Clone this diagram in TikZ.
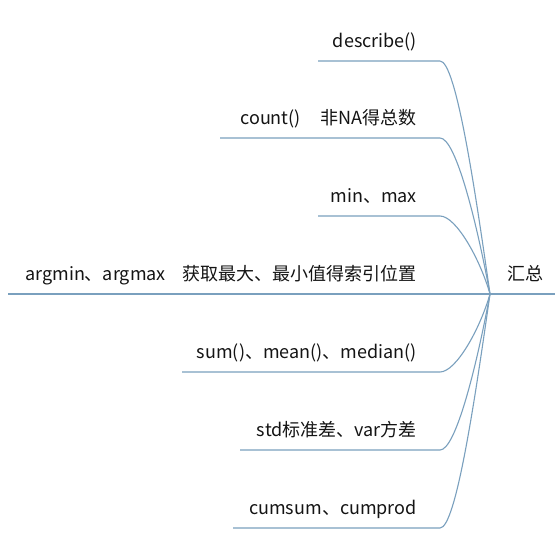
\documentclass[tikz,border=0pt]{standalone}
\usepackage{fontspec}
\setmainfont{Noto Sans CJK SC}
\definecolor{mmblue}{RGB}{122,160,190}
\definecolor{mmink}{RGB}{20,20,20}
\usetikzlibrary{positioning,calc}

\begin{document}
\begin{tikzpicture}[x=1pt,y=-1pt,
  mmleaf/.style={anchor=base east,inner sep=0pt,font=\fontsize{18}{20}\selectfont,text=mmink},
  mmroot/.style={anchor=base west,inner sep=0pt,font=\fontsize{18}{20}\selectfont,text=mmink},
  mmline/.style={draw=mmblue,line width=1.1pt}
]
  \fill[white] (0,0) rectangle (555,539);
  \useasboundingbox (0,0) rectangle (555,539);
  % root
  \coordinate (hub) at (490,294);
  \coordinate (rootend) at (555,294);
  \node[mmroot] (root) at (507,280) {汇总};
  \draw[mmline] (hub) -- (rootend);
  % upper branches
  \node[mmleaf] (describe) at (417,47) {describe()};
  \coordinate (describeL) at (318,61);
  \coordinate (describeR) at (440,61);
  \draw[mmline] (describeL) -- (describeR) .. controls +(16,0) and ($(hub)+(-15,-105)$) .. (hub);
  \node[mmleaf] (count) at (417,124) {count()\hspace{20pt}非NA得总数};
  \coordinate (countL) at (220,138);
  \coordinate (countR) at (440,138);
  \draw[mmline] (countL) -- (countR) .. controls +(16,0) and ($(hub)+(-13,-70)$) .. (hub);
  \node[mmleaf] (minmax) at (417,202) {min、max};
  \coordinate (minmaxL) at (318,216);
  \coordinate (minmaxR) at (440,216);
  \draw[mmline] (minmaxL) -- (minmaxR) .. controls +(16,0) and ($(hub)+(-10,-35)$) .. (hub);
  % middle branch
  \node[mmleaf] (argminmax) at (417,280) {argmin、argmax\hspace{17pt}获取最大、最小值得索引位置};
  \coordinate (argminmaxL) at (8,294);
  \draw[mmline] (argminmaxL) -- (hub);
  % lower branches
  \node[mmleaf] (summean) at (417,358) {sum()、mean()、median()};
  \coordinate (summeanL) at (182,372);
  \coordinate (summeanR) at (440,372);
  \draw[mmline] (summeanL) -- (summeanR) .. controls +(16,0) and ($(hub)+(-10,35)$) .. (hub);
  \node[mmleaf] (stdvar) at (417,436) {std标准差、var方差};
  \coordinate (stdvarL) at (240,450);
  \coordinate (stdvarR) at (440,450);
  \draw[mmline] (stdvarL) -- (stdvarR) .. controls +(16,0) and ($(hub)+(-13,70)$) .. (hub);
  \node[mmleaf] (cumsum) at (417,514) {cumsum、cumprod};
  \coordinate (cumsumL) at (233,528);
  \coordinate (cumsumR) at (440,528);
  \draw[mmline] (cumsumL) -- (cumsumR) .. controls +(16,0) and ($(hub)+(-15,105)$) .. (hub);
\end{tikzpicture}
\end{document}
